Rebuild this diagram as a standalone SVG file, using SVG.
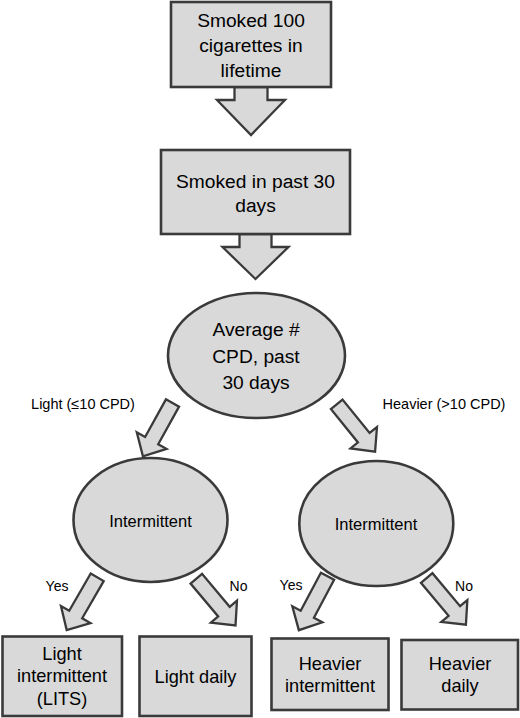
<svg xmlns="http://www.w3.org/2000/svg" width="520" height="718" viewBox="0 0 520 718">
<defs>
<style>
.shape{fill:#d9d9d9;stroke:#3a3a3a;stroke-width:2.6}
.arrow{fill:#d9d9d9;stroke:#3a3a3a;stroke-width:2.3;stroke-linejoin:miter}
text{font-family:"Liberation Sans",Arial,sans-serif;fill:#000;text-anchor:middle}
.big{font-size:19.2px}
.mid{font-size:18.2px}
.ell{font-size:16.5px}
.lbl{font-size:14.5px}
.yn{font-size:14px}
</style>
<polygon id="diag" points="-7.5,0 7.5,0 7.5,43 17,43 0,61 -17,43 -7.5,43"/>
</defs>
<rect width="520" height="718" fill="#fff"/>
<g id="connectors">
<polygon class="arrow" points="234.5,87 267.5,87 267.5,100 285,100 251,135 217,100 234.5,100"/>
<polygon class="arrow" points="239.5,234 271.5,234 271.5,247 288.5,247 255.5,279 222.5,247 239.5,247"/>
<use href="#diag" class="arrow" transform="translate(172.5,403) rotate(29)"/>
<use href="#diag" class="arrow" transform="translate(336.7,404.3) rotate(-39)"/>
<use href="#diag" class="arrow" transform="translate(97.2,577.3) rotate(30)"/>
<use href="#diag" class="arrow" transform="translate(196.3,578.7) rotate(-40)"/>
<use href="#diag" class="arrow" transform="translate(327.5,576.3) rotate(28)"/>
<use href="#diag" class="arrow" transform="translate(426.7,578) rotate(-40)"/>
<text class="lbl" x="83" y="409">Light (≤10 CPD)</text>
<text class="lbl" x="444" y="409">Heavier (&gt;10 CPD)</text>
<text class="yn" x="57" y="590.5">Yes</text>
<text class="yn" x="238.5" y="590.5">No</text>
<text class="yn" x="291" y="589.5">Yes</text>
<text class="yn" x="464" y="590.5">No</text>
</g>
<g id="node-lifetime">
<rect class="shape" x="171" y="2" width="160" height="85"/>
<text class="big" x="251" y="26.7">Smoked 100</text>
<text class="big" x="251" y="51.7">cigarettes in</text>
<text class="big" x="251" y="77">lifetime</text>
</g>
<g id="node-past30">
<rect class="shape" x="161" y="150" width="189" height="84"/>
<text class="big" x="255.5" y="187.7">Smoked in past 30</text>
<text class="big" x="255.5" y="211.7">days</text>
</g>
<g id="node-cpd">
<ellipse class="shape" cx="256.5" cy="355.5" rx="88.5" ry="62.5"/>
<text class="big" x="256" y="336">Average #</text>
<text class="big" x="256" y="362.7">CPD, past</text>
<text class="big" x="256" y="388.5">30 days</text>
</g>
<g id="node-int-light">
<ellipse class="shape" cx="150.5" cy="520" rx="77" ry="62"/>
<text class="ell" x="150.5" y="526.5">Intermittent</text>
</g>
<g id="node-int-heavy">
<ellipse class="shape" cx="376.3" cy="523.5" rx="77" ry="62.5"/>
<text class="ell" x="376" y="530">Intermittent</text>
</g>
<g id="node-lits">
<rect class="shape" x="2.5" y="636.5" width="119.5" height="79.5"/>
<text class="mid" x="62" y="660">Light</text>
<text class="mid" x="62" y="682">intermittent</text>
<text class="mid" x="62" y="705">(LITS)</text>
</g>
<g id="node-light-daily">
<rect class="shape" x="139.5" y="636.5" width="112" height="79.5"/>
<text class="mid" x="195.5" y="683">Light daily</text>
</g>
<g id="node-heavy-int">
<rect class="shape" x="271.5" y="638.5" width="117" height="71.5"/>
<text class="mid" x="330" y="670">Heavier</text>
<text class="mid" x="330" y="692">intermittent</text>
</g>
<g id="node-heavy-daily">
<rect class="shape" x="401.5" y="640" width="116.5" height="69.5"/>
<text class="mid" x="460" y="670">Heavier</text>
<text class="mid" x="460" y="692">daily</text>
</g>
</svg>
